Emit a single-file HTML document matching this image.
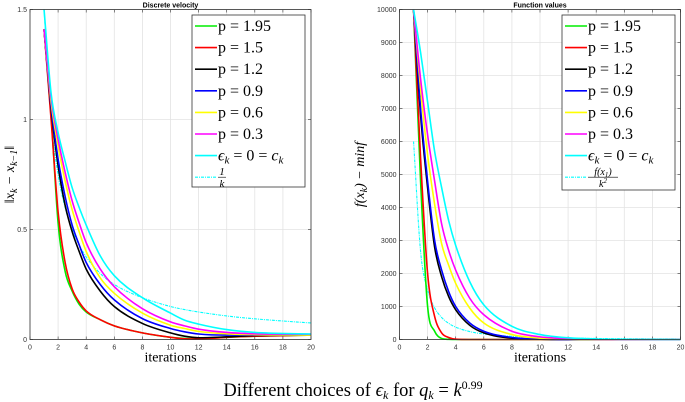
<!DOCTYPE html>
<html><head><meta charset="utf-8"><style>
body{margin:0;background:#fff;width:685px;height:402px;overflow:hidden}
svg{display:block}
.tk{font-family:"Liberation Sans",sans-serif;font-size:7px;fill:#333}
.sf{font-family:"Liberation Serif",serif}
</style></head><body>
<svg id="s" width="685" height="402">
<text class="sf" x="353" y="396" text-anchor="middle" font-size="18.5">Different choices of <tspan font-style="italic">ϵ</tspan><tspan font-style="italic" font-size="12" dy="3">k</tspan><tspan dy="-3"> for </tspan><tspan font-style="italic">q</tspan><tspan font-style="italic" font-size="12" dy="3">k</tspan><tspan dy="-3"> = </tspan><tspan font-style="italic">k</tspan><tspan font-size="12" dy="-7">0.99</tspan></text>
</svg>
<script>
const xs=[1,1.5,2,2.5,3,3.5,4,5,6,8,10,11,12,14,16,20];
const leftGreen=[1.41,1.02,0.53,0.31,0.22,0.16,0.125,0.09,0.062,0.03,0.01,0.005,0.004,0.01,0.015,0.02];
const leftRed=[1.41,1.0,0.58,0.35,0.23,0.17,0.13,0.09,0.062,0.03,0.01,0.003,0.002,0.01,0.015,0.02];
const leftBlack=[1.41,1.05,0.79,0.61,0.49,0.4,0.32,0.22,0.15,0.073,0.03,0.015,0.008,0.012,0.018,0.02];
const leftBlue=[1.41,1.06,0.82,0.65,0.52,0.43,0.35,0.25,0.18,0.095,0.05,0.035,0.025,0.02,0.02,0.02];
const leftYellow=[1.41,1.08,0.88,0.72,0.59,0.49,0.4,0.28,0.21,0.12,0.065,0.05,0.037,0.026,0.022,0.02];
const leftMagenta=[1.41,1.1,0.91,0.76,0.63,0.53,0.44,0.32,0.24,0.14,0.08,0.062,0.047,0.032,0.026,0.024];
const leftCyan=[1.5,1.12,0.94,0.81,0.69,0.6,0.52,0.38,0.29,0.19,0.12,0.088,0.07,0.045,0.032,0.025];
const leftRef=[1.5,1.0,0.75,0.6,0.5,0.43,0.375,0.3,0.25,0.19,0.15,0.136,0.125,0.107,0.094,0.075];
const rightGreen=[10000,4800,1000,250,30,5,0,0,0,0,0,0,0,0,0,0];
const rightRed=[10000,5500,2000,700,200,60,10,0,0,0,0,0,0,0,0,0];
const rightBlack=[10000,6800,4600,2800,1900,1300,900,430,200,40,8,0,0,0,0,0];
const rightBlue=[10000,7000,4800,3000,2100,1450,1000,500,250,60,15,5,0,0,0,0];
const rightYellow=[10000,7600,5600,4100,2900,2250,1700,950,500,150,40,20,10,0,0,0];
const rightMagenta=[10000,7900,6200,4800,3500,2700,2100,1250,750,250,80,45,25,5,0,0];
const rightCyan=[10000,8700,7200,5700,4600,3600,2850,1750,1050,400,150,90,50,15,5,0];
const rightRef=[6000,2667,1500,960,667,490,375,240,167,94,60,50,42,31,23,15];
const xTicks=[0,2,4,6,8,10,12,14,16,18,20];
const leftYTicks=[0,0.5,1,1.5];
const rightYTicks=[0,1000,2000,3000,4000,5000,6000,7000,8000,9000,10000];
const labels=["p = 1.95","p = 1.5","p = 1.2","p = 0.9","p = 0.6","p = 0.3"];
const colors=["#00ee00","#ff0000","#000000","#0000ff","#ffff00","#ff00ff","#00ffff"];
const NS="http://www.w3.org/2000/svg";
const svg=document.getElementById('s');
function mk(t,a,p){const e=document.createElementNS(NS,t);for(const k in a)e.setAttribute(k,a[k]);(p||svg).appendChild(e);return e;}
function mono(pts){const n=pts.length,d=[],m=[];
 for(let i=0;i<n-1;i++)d.push((pts[i+1][1]-pts[i][1])/(pts[i+1][0]-pts[i][0]));
 m[0]=d[0];m[n-1]=d[n-2];
 for(let i=1;i<n-1;i++){m[i]=(d[i-1]*d[i]<=0)?0:(d[i-1]+d[i])/2;}
 for(let i=0;i<n-1;i++){if(d[i]===0){m[i]=0;m[i+1]=0;continue;}const a=m[i]/d[i],b=m[i+1]/d[i],s=a*a+b*b;if(s>9){const t=3/Math.sqrt(s);m[i]=t*a*d[i];m[i+1]=t*b*d[i];}}
 let p="M"+pts[0][0]+","+pts[0][1];
 for(let i=0;i<n-1;i++){const h=(pts[i+1][0]-pts[i][0])/3;
  p+=" C"+(pts[i][0]+h)+","+(pts[i][1]+m[i]*h)+" "+(pts[i+1][0]-h)+","+(pts[i+1][1]-m[i+1]*h)+" "+pts[i+1][0]+","+pts[i+1][1];}
 return p;}
function chart(o){
 const g=mk('g',{});
 
 
 const X=v=>o.x0+(o.x1-o.x0)*v/20, Y=v=>o.y0-(o.y0-o.y1)*v/o.ymax;
 xTicks.forEach(t=>{mk('line',{x1:X(t),x2:X(t),y1:o.y1,y2:o.y0,stroke:'#e3e3e3','stroke-width':0.8},g);
  const l=mk('text',{x:X(t),y:o.y0+10,'text-anchor':'middle',class:'tk'},g);l.textContent=t;
  
  
  mk('line',{x1:X(t),x2:X(t),y1:o.y0,y2:o.y0-3,stroke:'#333','stroke-width':0.6},g);mk('line',{x1:X(t),x2:X(t),y1:o.y1,y2:o.y1+3,stroke:'#333','stroke-width':0.6},g);});
 o.yt.forEach(t=>{mk('line',{x1:o.x0,x2:o.x1,y1:Y(t),y2:Y(t),stroke:'#e3e3e3','stroke-width':0.8},g);
  const l=mk('text',{x:o.x0-3,y:Y(t)+2.5,'text-anchor':'end',class:'tk'},g);l.textContent=t;
  
  
  mk('line',{x1:o.x0,x2:o.x0+3,y1:Y(t),y2:Y(t),stroke:'#333','stroke-width':0.6},g);mk('line',{x1:o.x1,x2:o.x1-3,y1:Y(t),y2:Y(t),stroke:'#333','stroke-width':0.6},g);});
 const clip=mk('clipPath',{id:o.name+'c'},g);mk('rect',{x:o.x0,y:o.y1,width:o.x1-o.x0,height:o.y0-o.y1+2},clip);
 const cg=mk('g',{'clip-path':'url(#'+o.name+'c)'},g);
 const rp=mk('path',{d:mono(xs.map((x,i)=>[X(x),Y(o.ref[i])])),fill:'none',stroke:'#00ffff','stroke-width':1.1,'stroke-dasharray':'3,1,1,1'},cg);
 
 
 o.series.forEach((s,k)=>{const p=mk('path',{d:mono(xs.map((x,i)=>[X(x),Y(s[i])])),fill:'none',stroke:colors[k],'stroke-width':1.6},cg);
  
  });
 mk('rect',{x:o.x0,y:o.y1,width:o.x1-o.x0,height:o.y0-o.y1,fill:'none',stroke:'#333','stroke-width':0.8},g);
 const ti=mk('text',{x:(o.x0+o.x1)/2,y:o.y1-2,'text-anchor':'middle','font-family':'Liberation Sans','font-weight':'bold','font-size':7},g);ti.textContent=o.title;
 
 
 const xl=mk('text',{x:(o.x0+o.x1)/2,y:o.y0+22,'text-anchor':'middle',class:'sf','font-size':14},g);xl.textContent='iterations';
 
 
 const yl=mk('text',{x:0,y:0,'text-anchor':'middle',class:'sf','font-style':'italic','font-size':14,transform:'translate('+o.ylx+','+((o.y0+o.y1)/2)+') rotate(-90)'},g);yl.innerHTML=o.ylabel;
 
 
 const L=mk('g',{},g);
 
 
 mk('rect',{x:o.lx,y:15,width:113,height:o.lh,fill:'#fff',stroke:'#333','stroke-width':0.8},L);
 const names=labels.concat(['eps']);
 names.forEach((n,k)=>{const yy=26+k*21.6;
  mk('line',{x1:o.lx+3,x2:o.lx+25,y1:yy,y2:yy,stroke:colors[k],'stroke-width':1.6},L);
  const t=mk('text',{x:o.lx+26,y:yy+5,class:'sf','font-size':16},L);
  if(k<6)t.textContent=n;else t.innerHTML='<tspan font-style="italic">ϵ</tspan><tspan font-style="italic" font-size="11" dy="3">k</tspan><tspan dy="-3"> = 0 = </tspan><tspan font-style="italic">c</tspan><tspan font-style="italic" font-size="11" dy="3">k</tspan>';
  
  });
 const yy=26+7*21.6;
 mk('line',{x1:o.lx+3,x2:o.lx+25,y1:yy,y2:yy,stroke:'#00ffff','stroke-width':1.1,'stroke-dasharray':'3,1,1,1'},L);
 const a=mk('text',{x:o.lx+26+o.fw/2,y:yy-2,'text-anchor':'middle',class:'sf','font-style':'italic','font-size':o.ff},L);a.innerHTML=o.num;
 
 
 mk('line',{x1:o.lx+26,x2:o.lx+26+o.fw,y1:yy,y2:yy,stroke:'#000','stroke-width':0.6},L);
 const b=mk('text',{x:o.lx+26+o.fw/2,y:yy+10,'text-anchor':'middle',class:'sf','font-style':'italic','font-size':o.ff},L);b.innerHTML=o.den;
 
 
}
chart({name:'discrete-velocity-chart',title:'Discrete velocity',x0:30,x1:311,y0:339.5,y1:9.5,ymax:1.5,yt:leftYTicks,ref:leftRef,
 series:[leftGreen,leftRed,leftBlack,leftBlue,leftYellow,leftMagenta,leftCyan],
 ylabel:'‖x<tspan font-size="10" dy="3">k</tspan><tspan dy="-3"> − x</tspan><tspan font-size="10" dy="3">k−1</tspan><tspan dy="-3">‖</tspan>',ylx:14,lx:192,lh:172,num:'1',den:'k',fw:8,ff:11});
chart({name:'function-values-chart',title:'Function values',x0:399.5,x1:680.5,y0:339.5,y1:9.5,ymax:10000,yt:rightYTicks,ref:rightRef,
 series:[rightGreen,rightRed,rightBlack,rightBlue,rightYellow,rightMagenta,rightCyan],
 ylabel:'f(x<tspan font-size="10" dy="3">k</tspan><tspan dy="-3">) − minf</tspan>',ylx:364,lx:562,lh:175,num:'f(x<tspan font-size="7" dy="2">1</tspan><tspan dy="-2">)</tspan>',den:'k<tspan font-size="7" dy="-4">2</tspan>',fw:30,ff:10});
</script>
</body></html>
